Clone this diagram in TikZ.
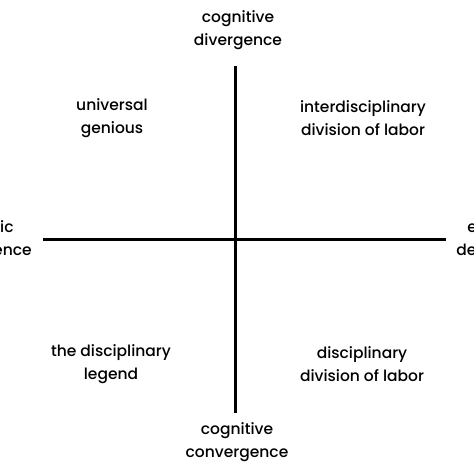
\documentclass[tikz,border=0pt]{standalone}
\usepackage{fontspec}
\setmainfont{Poppins}[UprightFont=* Medium]
\usetikzlibrary{positioning}

\begin{document}
\begin{tikzpicture}[
  x=1pt, y=-1pt,
  lbl/.style={align=center, inner sep=0pt, font=\fontsize{15.5}{23}\selectfont},
  axis/.style={line width=3pt}
]
  \useasboundingbox (0,0) rectangle (474,474);
  \clip (0,0) rectangle (474,474);

  % axis ends
  \coordinate (top) at (235.5, 66);
  \coordinate (bottom) at (235.5, 413);
  \coordinate (left) at (43, 239.5);
  \coordinate (right) at (446, 239.5);

  \draw[axis] (top) -- (bottom);
  \draw[axis] (left) -- (right);

  % axis labels
  \node[lbl] (div) at (238, 30) {cognitive\\divergence};
  \node[lbl] (conv) at (237, 442) {cognitive\\convergence};
  \node[lbl] (indep) at (-25, 240.5) {epistemic\\independence};
  \node[lbl] (dep) at (506, 240.5) {epistemic\\dependence};

  % quadrants
  \node[lbl] (univ) at (112, 118.5) {universal\\genious};
  \node[lbl] (inter) at (363, 118.5) {interdisciplinary\\division of labor};
  \node[lbl] (legend) at (111, 364.5) {the disciplinary\\legend};
  \node[lbl] (discip) at (362, 364.5) {disciplinary\\division of labor};
\end{tikzpicture}
\end{document}
